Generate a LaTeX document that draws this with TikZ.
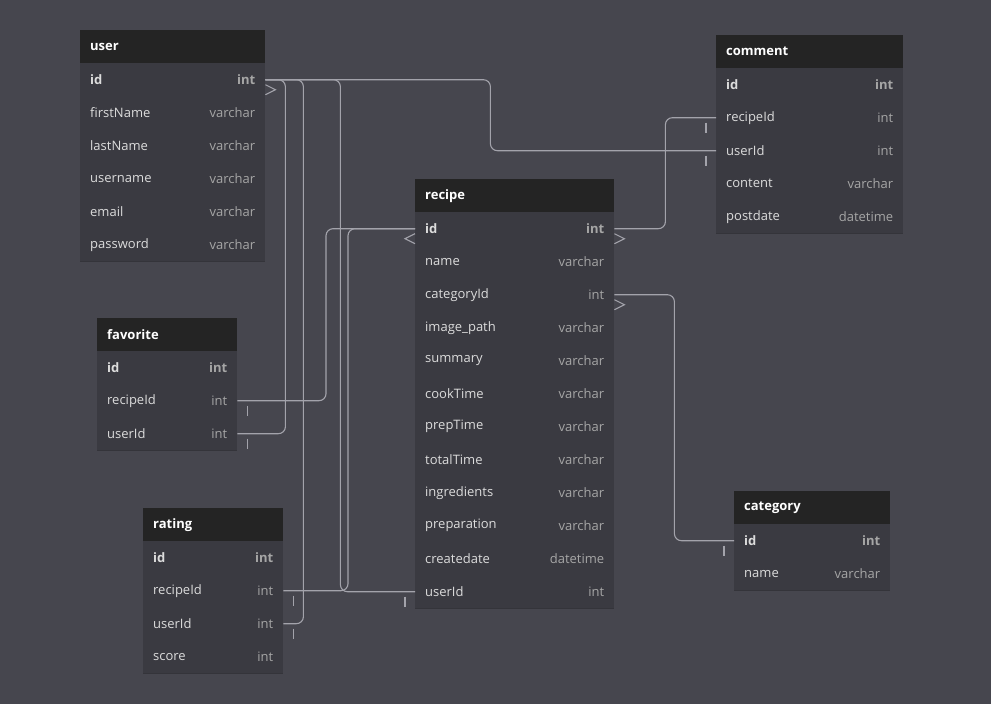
\documentclass[tikz,border=0pt]{standalone}
\usepackage{fontspec}
\setmainfont{Open Sans}
\definecolor{bg}{HTML}{46464E}
\definecolor{rowc}{HTML}{3A3A41}
\definecolor{hdrc}{HTML}{242424}
\definecolor{sepc}{HTML}{34343A}
\definecolor{namec}{HTML}{DCDCDC}
\definecolor{typec}{HTML}{A6A6A6}
\definecolor{linec}{HTML}{A3A3AB}
\tikzset{
 hdr/.style={fill=hdrc, minimum height=33pt, inner sep=0pt, anchor=north west},
 row/.style={fill=rowc, minimum height=33pt, inner sep=0pt, anchor=north west, path picture={\draw[sepc,line width=1pt] (path picture bounding box.south west) -- (path picture bounding box.south east);}},
 htxt/.style={text=white, font=\fontsize{13}{15}\selectfont\bfseries, anchor=west, inner sep=0pt},
 ftxt/.style={text=namec, font=\fontsize{13}{15}\selectfont, anchor=west, inner sep=0pt},
 ttxt/.style={text=typec, font=\fontsize{13}{15}\selectfont, anchor=east, inner sep=0pt},
 conn/.style={draw=linec, line width=1.1pt, rounded corners=7pt},
 mk/.style={draw=linec, line width=1.1pt},
}
\newcommand\ertable[5]{%
 \node[hdr, minimum width=#4] (#1) at (#2,#3) {};
 \node[htxt] at ([xshift=10pt]#1.west) {#1};
 \node[row, minimum width=#4] (#1-id) at (#2,#3+33) {};
 \node[ftxt, font=\fontsize{13}{15}\selectfont\bfseries] at ([xshift=10pt]#1-id.west) {id};
 \node[ttxt, font=\fontsize{13}{15}\selectfont\bfseries] at ([xshift=-10pt]#1-id.east) {int};
 \foreach \f/\l/\t [count=\i] in {#5} {
  \node[row, minimum width=#4] (#1-\f) at (#2,#3+33+33*\i) {};
  \node[ftxt] at ([xshift=10pt]#1-\f.west) {\l};
  \node[ttxt] at ([xshift=-10pt]#1-\f.east) {\t};
 }%
}
\begin{document}
\begin{tikzpicture}[x=1pt,y=-1pt]
\fill[bg] (0,0) rectangle (991,704);
\useasboundingbox (0,0) rectangle (991,704);
\ertable{user}{80}{30}{185pt}{firstName/firstName/varchar, lastName/lastName/varchar, username/username/varchar, email/email/varchar, password/password/varchar}
\ertable{comment}{716}{35}{187pt}{recipeId/recipeId/int, userId/userId/int, content/content/varchar, postdate/postdate/datetime}
\ertable{recipe}{415}{179}{199pt}{name/name/varchar, categoryId/categoryId/int, imagepath/image\_path/varchar, summary/summary/varchar, cookTime/cookTime/varchar, prepTime/prepTime/varchar, totalTime/totalTime/varchar, ingredients/ingredients/varchar, preparation/preparation/varchar, createdate/createdate/datetime, userId/userId/int}
\ertable{favorite}{97}{318}{140pt}{recipeId/recipeId/int, userId/userId/int}
\ertable{rating}{143}{508}{140pt}{recipeId/recipeId/int, userId/userId/int, score/score/int}
\ertable{category}{734}{491}{156pt}{name/name/varchar}
% connectors
\draw[conn] (user-id.east) -- ++(225,0) |- (comment-userId.west);
\draw[conn] (user-id.east) -- ++(20,0) |- (favorite-userId.east);
\draw[conn] (user-id.east) -- ++(38,0) |- (rating-userId.east);
\draw[conn] (user-id.east) -- ++(75,0) |- (recipe-userId.west);
\draw[conn] (recipe-id.west) -- ++(-89,0) |- (favorite-recipeId.east);
\draw[conn] (recipe-id.west) -- ++(-67,0) |- (rating-recipeId.east);
\draw[conn] (recipe-id.east) -- ++(51,0) |- (comment-recipeId.west);
\draw[conn] (recipe-categoryId.east) -- ++(60,0) |- (category-id.west);
% crow's feet
\draw[mk] ([yshift=-5pt]user-id.east) -- ++(10,5) -- ++(-10,5);
\draw[mk] ([yshift=-5pt]recipe-id.west) -- ++(-10,5) -- ++(10,5);
\draw[mk] ([yshift=-5pt]recipe-id.east) -- ++(10,5) -- ++(-10,5);
\draw[mk] ([yshift=-5pt]recipe-categoryId.east) -- ++(10,5) -- ++(-10,5);
% bars
\draw[mk] ([xshift=10pt,yshift=-5pt]favorite-recipeId.east) -- ++(0,10);
\draw[mk] ([xshift=10pt,yshift=-5pt]favorite-userId.east) -- ++(0,10);
\draw[mk] ([xshift=10pt,yshift=-5pt]rating-recipeId.east) -- ++(0,10);
\draw[mk] ([xshift=10pt,yshift=-5pt]rating-userId.east) -- ++(0,10);
\draw[mk] ([xshift=-10pt,yshift=-5pt]recipe-userId.west) -- ++(0,10);
\draw[mk] ([xshift=-10pt,yshift=-5pt]comment-recipeId.west) -- ++(0,10);
\draw[mk] ([xshift=-10pt,yshift=-5pt]comment-userId.west) -- ++(0,10);
\draw[mk] ([xshift=-10pt,yshift=-5pt]category-id.west) -- ++(0,10);
\end{tikzpicture}
\end{document}
